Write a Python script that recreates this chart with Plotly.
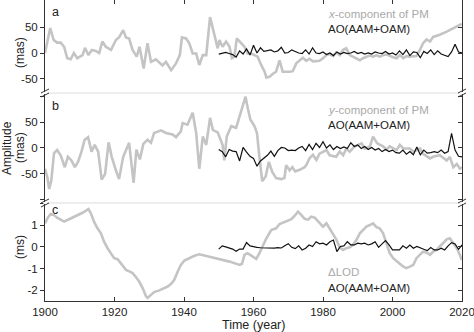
import plotly.graph_objects as go

# ---------------- data ----------------
pmx_years = [1900.0, 1901.5, 1902.5, 1903.5, 1904.5, 1905.5, 1906.4, 1907.4, 1908.3, 1909.3, 1910.8, 1911.5,
             1912.5, 1913.5, 1914.6, 1915.6, 1916.5, 1917.5, 1919.0, 1920.4, 1921.4, 1922.5, 1923.3, 1924.2,
             1925.2, 1926.4, 1927.2, 1928.4, 1929.5, 1930.5, 1931.9, 1932.9, 1933.8, 1934.8, 1936.3, 1937.7,
             1938.8, 1939.4, 1940.6, 1941.5, 1942.5, 1943.5, 1944.4, 1945.4, 1946.4, 1947.5, 1948.3, 1949.2,
             1949.7, 1950.2, 1951.1, 1952.1, 1953.1, 1953.8, 1954.5, 1955.2, 1956.4, 1957.4, 1958.3, 1959.3,
             1960.3, 1961.2, 1962.2, 1963.2, 1963.7, 1964.6, 1965.6, 1966.5, 1967.5, 1968.4, 1970.4, 1971.3,
             1972.3, 1973.3, 1974.2, 1975.2, 1976.1, 1977.1, 1978.1, 1979.0, 1980.0, 1981.0, 1981.9, 1982.9,
             1983.8, 1984.8, 1985.8, 1986.7, 1987.7, 1988.6, 1989.6, 1990.6, 1991.5, 1992.5, 1993.4, 1994.4,
             1995.4, 1996.3, 1997.3, 1998.3, 1999.2, 2000.2, 2001.2, 2002.1, 2003.1, 2004.0, 2005.0, 2006.9,
             2007.9, 2008.8, 2009.8, 2010.8, 2011.7, 2013.6, 2015.6, 2017.5, 2018.9, 2019.9]
pmx_values = [0, 48, 25, 20, 20, 12, -10, -12, 0, -10, -4, 10,
              -4, 6, 4, 0, 22, 12, 6, 25, 31, 44, 30, 28,
              6, -7, 12, -30, 19, -17, -12, -18, -24, -17, -33, -20,
              -4, 30, 28, 19, -1, -1, -23, -4, -4, 69, 47, 19,
              9, 25, 12, 22, 12, -10, -7, 28, 19, 12, -1, -1,
              -4, -7, -23, -36, -47, -46, -40, -36, -14, -36, -36, -35,
              -20, -15, -9, -15, -11, -16, -15, -15, -10, -4, -2, -6,
              1, -4, 6, 9, -4, -7, -10, -14, -10, -7, -5, -7,
              -4, -7, -4, -3, -6, -8, -10, -4, -10, -6, -7, -6,
              6, 19, 26, 22, 31, 35, 41, 47, 52, 56]

pmy_years = [1900.0, 1900.7, 1901.2, 1901.8, 1902.6, 1903.5, 1904.5, 1905.7, 1906.6, 1907.6, 1908.6, 1909.5,
             1910.5, 1911.4, 1912.4, 1913.4, 1914.3, 1915.3, 1916.3, 1917.3, 1918.3, 1919.2, 1920.4, 1921.3,
             1922.5, 1924.2, 1925.5, 1926.3, 1927.3, 1928.3, 1929.5, 1930.5, 1931.4, 1933.4, 1934.8, 1936.7,
             1937.7, 1939.1, 1939.6, 1941.0, 1942.5, 1943.5, 1944.4, 1945.4, 1946.4, 1947.5, 1948.3, 1949.7,
             1951.1, 1951.6, 1952.3, 1953.6, 1955.0, 1956.4, 1957.7, 1958.4, 1959.1, 1960.3, 1961.0, 1961.7,
             1962.5, 1963.5, 1964.4, 1965.4, 1966.5, 1968.0, 1968.9, 1969.4, 1970.4, 1971.2, 1972.0, 1973.3,
             1974.7, 1975.2, 1976.1, 1977.1, 1978.1, 1979.0, 1981.0, 1981.9, 1983.8, 1984.8, 1985.8, 1986.7,
             1987.7, 1989.1, 1991.1, 1992.0, 1993.5, 1994.4, 1995.6, 1997.3, 1998.3, 1999.2, 2001.2, 2002.1,
             2003.1, 2005.0, 2006.0, 2007.9, 2008.8, 2010.8, 2011.7, 2013.6, 2015.6, 2016.5, 2017.5, 2018.5,
             2019.4, 2020.0]
pmy_values = [-40, -57, -79, -63, -10, -4, -14, -37, -17, -24, -37, -27,
              -7, 16, 21, -7, 6, -7, -61, -50, 11, -17, -43, -60,
              -17, 10, -67, -3, -22, 8, 16, 10, 29, 34, 29, 26,
              21, 32, 48, 45, 68, 29, -40, 22, 6, 58, 35, 30,
              6, -24, 22, 42, 39, 68, 99, 75, 55, 42, 29, -17,
              -64, -55, -27, -46, -58, -60, -58, -33, -43, -37, -45, -42,
              -37, -33, -20, -13, -23, -11, -4, -14, -17, -7, -14, -1,
              -7, 3, 9, -1, 3, 22, 9, 3, -3, 3, -4, 6,
              -1, -1, -7, -1, -11, -20, -17, -14, -24, -17, -37, -31,
              -40, -37]

lod_years = [1900.0, 1900.7, 1901.6, 1902.6, 1903.5, 1905.5, 1906.9, 1908.9, 1910.8, 1912.5, 1913.2, 1914.1,
             1915.1, 1916.1, 1917.0, 1918.0, 1918.9, 1919.9, 1920.9, 1921.5, 1922.5, 1923.3, 1924.4, 1925.2,
             1926.2, 1927.1, 1928.1, 1929.0, 1929.5, 1930.5, 1931.4, 1932.9, 1933.8, 1935.3, 1936.3, 1937.2,
             1938.2, 1939.1, 1940.1, 1941.5, 1943.0, 1944.4, 1945.9, 1949.2, 1953.1, 1956.0, 1956.7, 1957.4,
             1958.3, 1959.8, 1960.8, 1961.7, 1962.7, 1963.7, 1965.1, 1966.5, 1967.5, 1968.9, 1969.9, 1970.9,
             1971.8, 1972.8, 1973.8, 1974.7, 1975.7, 1976.6, 1977.6, 1978.5, 1980.0, 1981.0, 1981.9, 1982.9,
             1983.8, 1984.8, 1985.8, 1986.7, 1987.7, 1988.6, 1989.6, 1990.6, 1991.5, 1992.5, 1993.5, 1994.4,
             1995.4, 1996.3, 1997.3, 1998.3, 1999.2, 2000.2, 2001.2, 2002.1, 2003.1, 2004.0, 2005.0, 2006.0,
             2006.9, 2007.9, 2008.8, 2009.8, 2010.8, 2011.7, 2012.7, 2013.6, 2014.6, 2015.6, 2016.5, 2017.5,
             2018.5, 2019.4, 2019.9]
lod_values = [1.09, 1.32, 1.52, 1.47, 1.35, 1.17, 1.28, 1.43, 1.58, 1.75, 1.55, 1.17,
              0.86, 0.63, 0.24, -0.06, -0.29, -0.52, -0.57, -0.68, -0.91, -1.06, -1.14, -1.21,
              -1.40, -1.60, -1.90, -2.26, -2.36, -2.21, -2.09, -2.01, -1.95, -1.83, -1.71, -1.52,
              -1.14, -0.83, -0.63, -0.52, -0.41, -0.34, -0.40, -0.52, -0.68, -0.83, -0.78, -0.37,
              -0.29, -0.45, -0.55, -0.29, 0.09, 0.40, 0.78, 0.86, 1.06, 1.14, 1.20, 1.28,
              1.43, 1.63, 1.47, 1.30, 1.26, 1.40, 1.35, 1.20, 0.94, 1.09, 0.86, 0.63,
              0.35, -0.02, -0.14, -0.06, -0.02, 0.09, 0.32, 0.63, 0.78, 0.94, 1.01, 1.09,
              0.91, 0.86, 0.63, 0.17, -0.29, -0.52, -0.68, -0.78, -0.91, -0.98, -0.91, -0.83,
              -0.52, -0.37, -0.22, -0.26, -0.37, -0.22, -0.14, 0.02, 0.17, 0.35, 0.40, 0.17,
              -0.06, -0.37, -0.60]

ao_years = list(range(1950, 2021))
ao_x = [-2, 0, 1, -1, -3, -8, 4, -2, 8, -4, 15, 0, 10, 3, 4, 6, 2, 4, 11, 0,
        1, 6, 3, 0, -1, 6, -2, 10, 0, -1, 2, -3, 0, -5, 2, -2, 1, -1, 0, 3,
        -1, 1, -2, 0, -2, 2, 0, -1, 3, -2, 0, -4, 4, -3, 6, -5, 2, 1, -9, 3,
        -1, 6, -3, 4, -2, -5, -7, 2, 17, 2, 0]
ao_y = [-3, -7, -17, -3, -6, -7, -25, 1, -8, -16, -20, -35, -25, -20, -14, -6, -16, -5, 1, 0,
        -5, -4, -5, 0, 3, -5, 7, -3, 9, 1, 12, 0, 6, -3, 3, -1, 2, -1, 10, 3,
        6, -1, 3, -3, 1, -4, -1, -7, -3, -7, -4, -9, -10, -4, -12, -7, -13, 2, -13, -4,
        -10, -9, -7, -9, -4, -10, -7, 28, -4, -16, -17]
ao_lod = [-0.10, 0.05, 0.00, -0.05, -0.10, -0.20, -0.10, -0.10, 0.20, 0.05, 0.00, -0.02, -0.04, -0.05,
          -0.05, -0.06, -0.06, -0.03, -0.05, 0.05, 0.15, -0.02, -0.08, 0.05, -0.14, -0.06, 0.09, 0.02,
          0.24, 0.14, 0.17, 0.09, 0.24, 0.32, -0.22, 0.02, 0.05, 0.24, 0.09, 0.09, 0.17, 0.14,
          0.17, 0.09, 0.14, 0.24, -0.02, 0.14, 0.29, 0.09, -0.14, -0.14, -0.14, 0.05, -0.06, 0.09,
          -0.06, 0.02, -0.06, -0.11, -0.17, -0.03, -0.14, -0.14, -0.06, -0.14, 0.05, 0.20, 0.14,
          -0.11, 0.09]

x_ticks = [1900, 1920, 1940, 1960, 1980, 2000, 2020]
a_ticks = [-50, 0, 50]
b_ticks = [-100, -50, 0, 50, 100]
b_ticktext = ["", "-50", "0", "50", ""]
c_ticks = [-2, -1, 0, 1, 2]
c_ticktext = ["-2", "-1", "0", "1", ""]

# ---------------- style ----------------
GREY = "#c4c4c4"
BLACK = "#111111"
TXT = "#222222"
FONT = "Liberation Sans, Arial, sans-serif"
FS = 11.5

dom_c = [0.0, 0.3256]
dom_b = [0.3256, 0.691]
dom_a = [0.691, 1.0]
rng_a = [-77, 102]
rng_b = [-106, 106]
rng_c = [-2.5, 2.03]

fig = go.Figure()

def add_pair(gx, gy, yref, bvals):
    fig.add_trace(go.Scatter(x=gx, y=gy, mode="lines", line=dict(color=GREY, width=2.6),
                             xaxis="x", yaxis=yref, showlegend=False, hoverinfo="skip"))
    fig.add_trace(go.Scatter(x=ao_years, y=bvals, mode="lines", line=dict(color=BLACK, width=1.2),
                             xaxis="x", yaxis=yref, showlegend=False, hoverinfo="skip"))

add_pair(pmx_years, pmx_values, "y", ao_x)
add_pair(pmy_years, pmy_values, "y2", ao_y)
add_pair(lod_years, lod_values, "y3", ao_lod)

# empty traces to create the mirror (right / top) axes
for ya in ["y4", "y5", "y6"]:
    fig.add_trace(go.Scatter(x=[None], y=[None], xaxis="x", yaxis=ya, showlegend=False))
fig.add_trace(go.Scatter(x=[None], y=[None], xaxis="x2", yaxis="y", showlegend=False))

tickfont = dict(family=FONT, size=FS, color=TXT)

def left_axis(domain, rng, tv, tt):
    return dict(domain=domain, range=rng, tickvals=tv, ticktext=tt, ticks="outside", ticklen=4,
                tickcolor="#333", showline=True, linecolor="#333", linewidth=1, zeroline=False,
                showgrid=False, tickfont=tickfont, anchor="x", fixedrange=True)

def right_axis(over, rng, tv):
    return dict(overlaying=over, side="right", range=rng, tickvals=tv, ticks="inside", ticklen=4,
                tickcolor="#333", showline=True, linecolor="#333", linewidth=1, zeroline=False,
                showgrid=False, showticklabels=False, anchor="x")

fig.update_layout(
    width=474, height=332,
    margin=dict(l=45, r=12, t=0, b=31),
    paper_bgcolor="white", plot_bgcolor="white",
    font=dict(family=FONT, size=FS, color=TXT),
    xaxis=dict(range=[1900, 2020], tickvals=x_ticks, ticks="inside", ticklen=4, tickcolor="#333",
               showline=True, linecolor="#333", linewidth=1, zeroline=False, showgrid=False,
               tickfont=tickfont, anchor="y3", fixedrange=True, ticklabeloverflow="allow"),
    xaxis2=dict(overlaying="x", side="top", range=[1900, 2020], tickvals=x_ticks, ticks="inside",
                ticklen=4, tickcolor="#333", showline=True, linecolor="#333", linewidth=1,
                showticklabels=False, showgrid=False, zeroline=False, anchor="y"),
    yaxis=left_axis(dom_a, rng_a, a_ticks, ["-50", "0", "50"]),
    yaxis2=left_axis(dom_b, rng_b, b_ticks, b_ticktext),
    yaxis3=left_axis(dom_c, rng_c, c_ticks, c_ticktext),
    yaxis4=right_axis("y", rng_a, a_ticks),
    yaxis5=right_axis("y2", rng_b, b_ticks),
    yaxis6=right_axis("y3", rng_c, c_ticks),
)

# panel dividers
shapes = []
for yb in [dom_b[0], dom_a[0]]:
    shapes.append(dict(type="line", xref="paper", yref="paper", x0=0, x1=1, y0=yb, y1=yb,
                       line=dict(color="#dddddd", width=1), layer="below"))
fig.update_layout(shapes=shapes)

# break marks on the side axes (pixel offsets relative to paper positions)
for yb in [dom_b[0], dom_a[0]]:
    for xb in [0, 1]:
        for off in [-2, 2]:
            fig.add_shape(type="line", xref="paper", yref="paper",
                          xsizemode="pixel", ysizemode="pixel", xanchor=xb, yanchor=yb,
                          x0=-4, x1=4, y0=off - 2, y1=off + 2,
                          line=dict(color="#333", width=1))
        fig.add_shape(type="line", xref="paper", yref="paper",
                      xsizemode="pixel", ysizemode="pixel", xanchor=xb, yanchor=yb,
                      x0=0, x1=0, y0=-1, y1=1, line=dict(color="white", width=3))

ann = []
def txt(x, y, s, color=TXT, xanchor="left", angle=0, size=FS):
    ann.append(dict(x=x, y=y, xref="paper", yref="paper", text=s, showarrow=False,
                    xanchor=xanchor, yanchor="middle", textangle=angle,
                    font=dict(family=FONT, size=size, color=color)))

# panel letters
txt(0.012, 1 - 12 / 301, "a", size=12.5)
txt(0.012, 1 - 106 / 301, "b", size=12.5)
txt(0.012, 1 - 210 / 301, "c", size=12.5)

# legends
lx = (326 - 45) / 417
txt(lx, 1 - 14 / 301, "<i>x</i>-component of PM", color="#a9a9a9")
txt(lx, 1 - 29 / 301, "AO(AAM+OAM)")
txt(lx, 1 - 110 / 301, "<i>y</i>-component of PM", color="#a9a9a9")
txt(lx, 1 - 125 / 301, "AO(AAM+OAM)")
txt(lx, 1 - 272 / 301, "\u0394LOD", color="#a9a9a9")
txt(lx, 1 - 288 / 301, "AO(AAM+OAM)")

# axis titles
txt((20 - 45) / 417, 1 - 53 / 301, "(mas)", xanchor="center", angle=-90, size=12)
txt((20 - 45) / 417, 1 - 148 / 301, "(mas)", xanchor="center", angle=-90, size=12)
txt((7 - 45) / 417, 1 - 148 / 301, "Amplitude", xanchor="center", angle=-90, size=12)
txt((20 - 45) / 417, 1 - 247 / 301, "(ms)", xanchor="center", angle=-90, size=12)
txt(0.5, 1 - 325 / 301, "Time (year)", xanchor="center", size=12.5)

fig.update_layout(annotations=ann)

fig.write_html("out.html")
